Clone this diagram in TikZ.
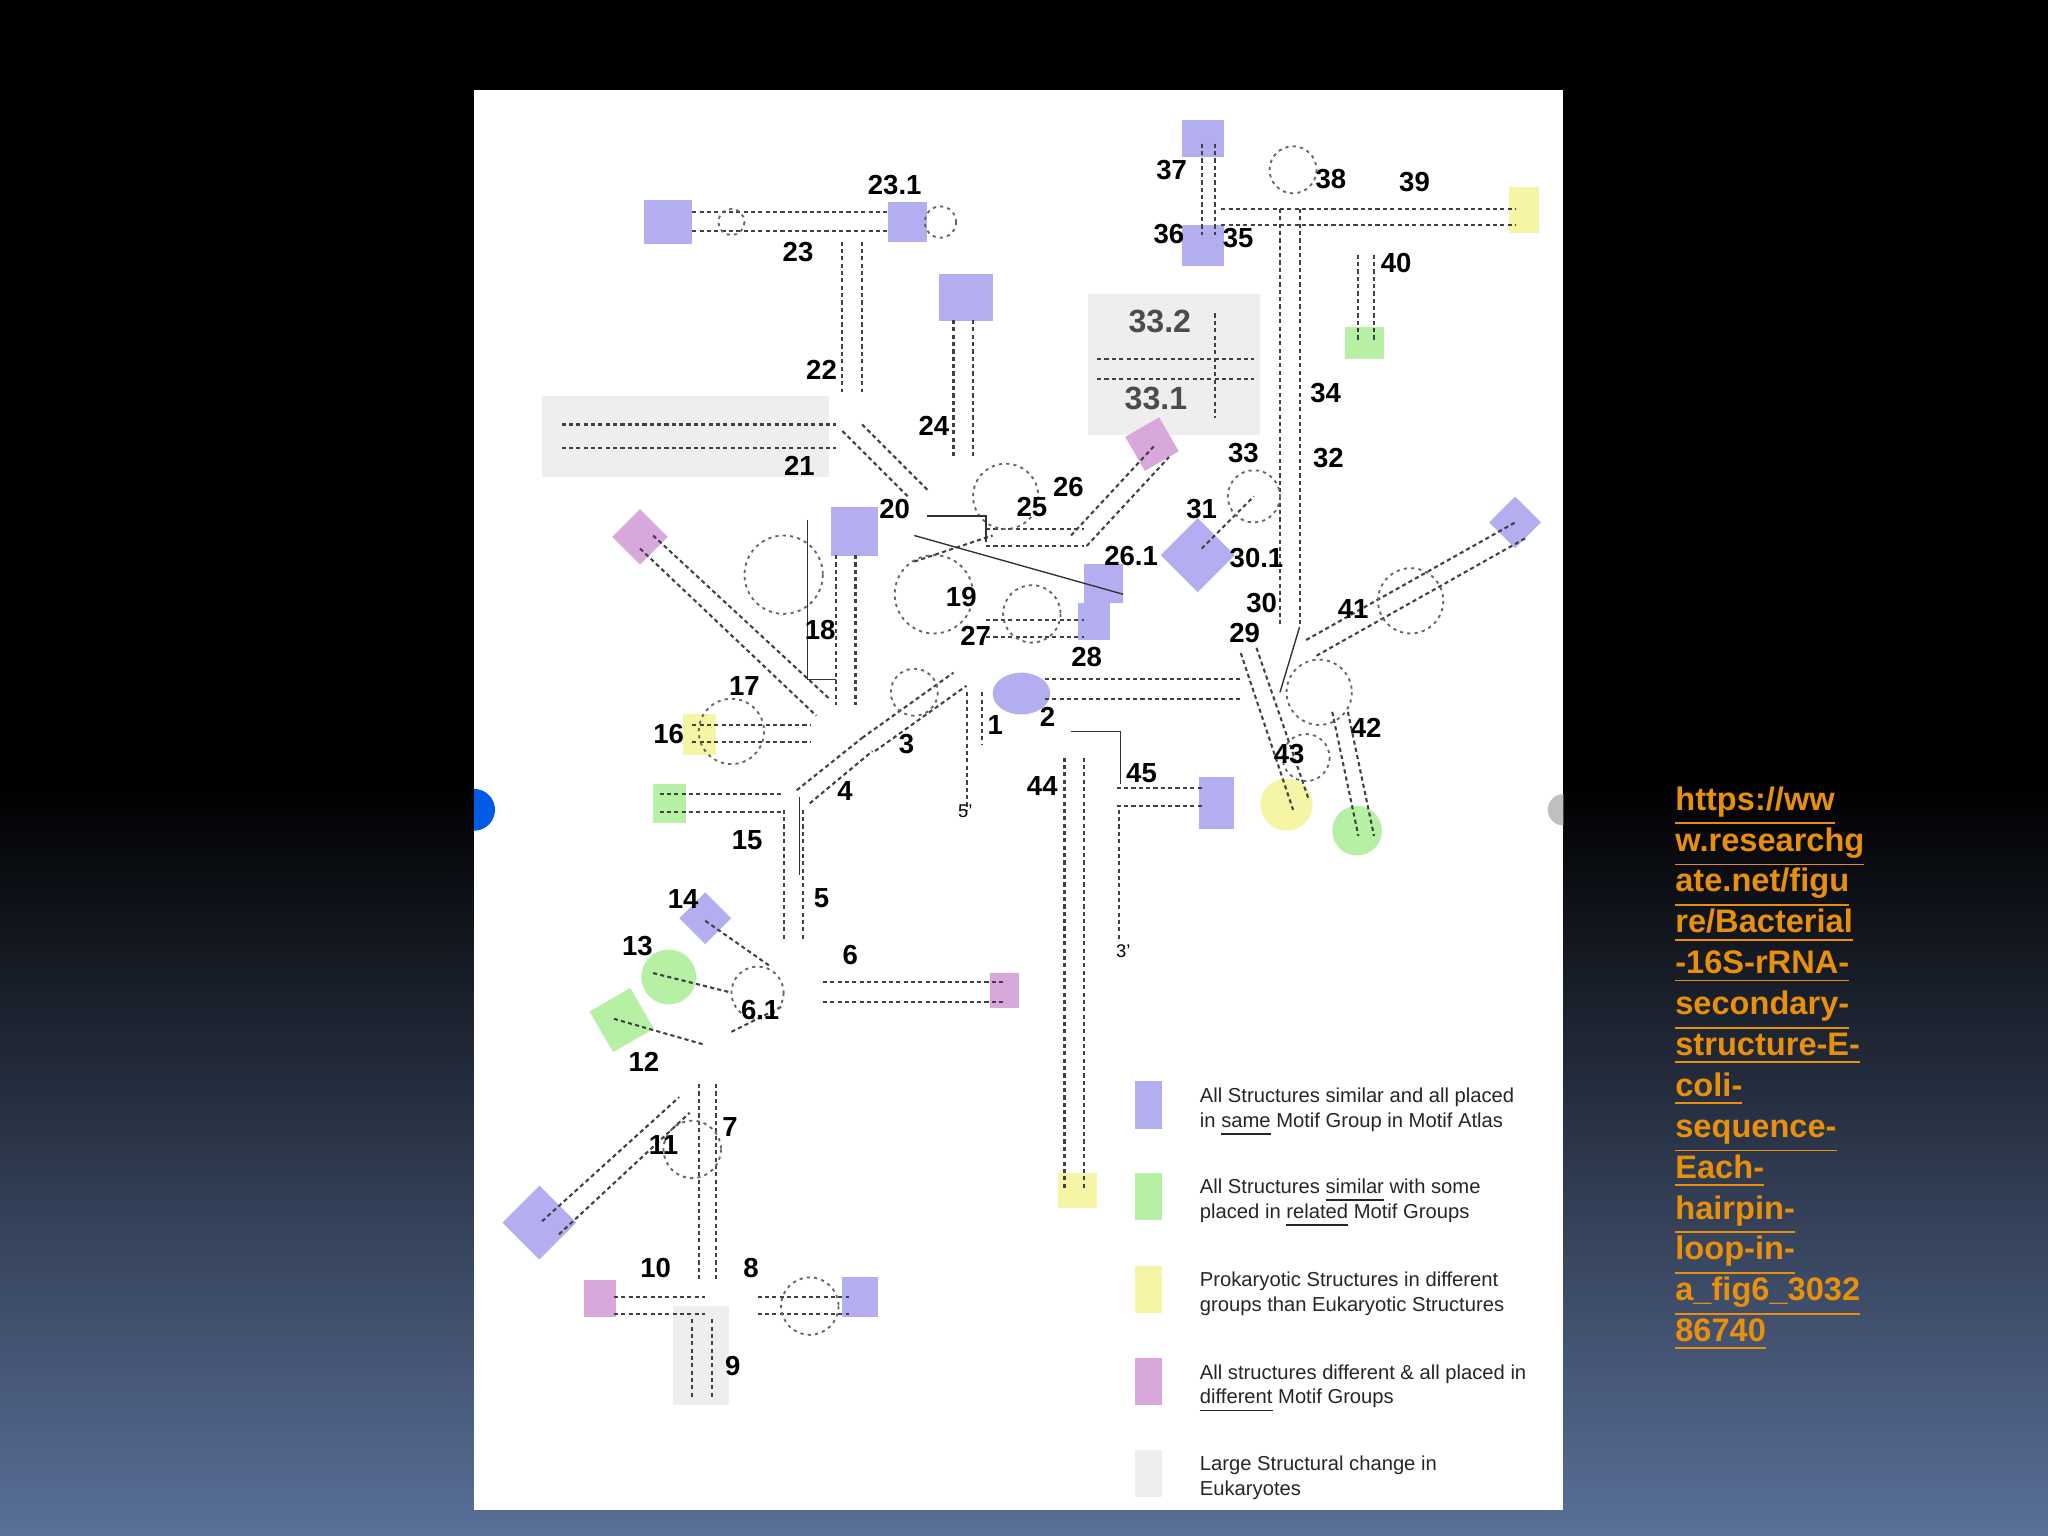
\documentclass[tikz,border=0pt]{standalone}
\usepackage{fontspec}
\setmainfont{Liberation Sans}
\begin{document}
\begin{tikzpicture}[x=0.1mm,y=-0.1mm,
  lbl/.style={font=\bfseries\fontsize{6}{7}\selectfont,inner sep=0pt},
  stem/.style={draw=black!75,line width=0.45pt,dash pattern=on 0.9pt off 0.7pt},
  loopc/.style={draw=black!60,line width=0.4pt,dash pattern=on 0.7pt off 0.9pt},
  thinl/.style={draw=black!80,line width=0.3pt},
  legtxt/.style={font=\fontsize{4.4}{5.4}\selectfont,align=left,anchor=north west,inner sep=0pt,text=black!85},
  linkt/.style={anchor=base west,inner sep=0pt,text=linkc,font=\bfseries\fontsize{7.1}{7.6}\selectfont}]
\definecolor{mpur}{HTML}{B3AEF0}
\definecolor{mgrn}{HTML}{B5F0A5}
\definecolor{myel}{HTML}{F5F5A5}
\definecolor{mpnk}{HTML}{D8A8DC}
\definecolor{mgry}{HTML}{EEEEEE}
\definecolor{bgbot}{HTML}{5A7099}
\definecolor{linkc}{HTML}{E8900C}
\useasboundingbox (0,0) rectangle (1568,1176);
\fill[black] (0,0) rectangle (1568,601);
\shade[top color=black,bottom color=bgbot] (0,600) rectangle (1568,1176);
\fill[white] (363,69) rectangle (1197,1156);
% gray boxes
\fill[mgry] (833,225) rectangle (965,333);
\fill[mgry] (415,303) rectangle (635,365);
\fill[mgry] (515,1000) rectangle (558,1076);
% purple patches
\foreach \a/\b/\c/\d in {493/153/530/187,680/155/710/185,719/210/760/246,905/92/937/120,905/172/937/204,636/388/672/426,830/432/860/462,825/462/850/490,918/595/945/635,645/978/672/1008}
  \fill[mpur] (\a,\b) rectangle (\c,\d);
\fill[mpur] (782,531) ellipse (22 and 16);
\fill[mpur,rotate around={45:(917,425)}] (897,405) rectangle (937,445);
\fill[mpur,rotate around={45:(1160,400)}] (1146,386) rectangle (1174,414);
\fill[mpur,rotate around={45:(540,703)}] (526,689) rectangle (554,717);
\fill[mpur,rotate around={45:(413,936)}] (393,916) rectangle (433,956);
% green
\foreach \a/\b/\c/\d in {1030/250/1060/275,500/600/525/630}
  \fill[mgrn] (\a,\b) rectangle (\c,\d);
\fill[mgrn] (512,748) circle (21);
\fill[mgrn,rotate around={30:(476,781)}] (458,763) rectangle (494,799);
\fill[mgrn] (1039,636) circle (19);
% yellow
\fill[myel] (1155,143) rectangle (1178,178);
\fill[myel] (523,547) rectangle (548,578);
\fill[myel] (985,616) circle (20);
\fill[myel] (810,898) rectangle (840,925);
% pink
\fill[mpnk,rotate around={45:(490,411)}] (475,396) rectangle (505,426);
\fill[mpnk,rotate around={30:(882,340)}] (867,325) rectangle (897,355);
\fill[mpnk] (758,745) rectangle (780,772);
\fill[mpnk] (447,980) rectangle (472,1008);
% stems
\foreach \x/\y/\u/\v in {530/162/680/162,530/177/680/177,645/185/645/300,660/185/660/300,730/245/730/350,745/245/745/350,
  430/325/640/325,430/343/640/343,645/330/695/380,660/325/710/375,640/425/640/540,655/425/655/540,
  490/420/625/548,500/410/635/535,530/555/620/555,530/568/620/568,505/608/600/608,505/622/600/622,
  660/565/730/515,670/575/740/525,610/605/660/565,620/615/668/575,600/620/600/720,615/620/615/720,
  630/752/770/752,630/767/770/767,540/705/590/740,500/745/560/760,470/780/540/800,560/790/600/770,
  535/830/535/980,548/830/548/980,415/935/520/840,428/945/528/852,470/993/540/993,470/1006/540/1006,
  580/993/650/993,580/1006/650/1006,530/1010/530/1070,545/1010/545/1070,
  800/520/950/520,800/535/950/535,700/430/760/410,755/475/830/475,755/488/830/488,755/405/830/405,755/418/830/418,
  820/410/885/340,832/418/895/350,980/160/980/480,995/160/995/480,1040/195/1040/260,1052/195/1052/260,
  935/160/1160/160,935/172/1160/172,920/110/920/180,930/110/930/180,840/275/960/275,840/290/960/290,930/240/930/320,
  920/420/960/380,1000/490/1160/400,1008/502/1168/412,950/500/990/620,962/496/1002/612,1020/545/1040/640,1032/545/1052/640,
  815/580/815/910,830/580/830/910,855/603/920/603,855/617/920/617,857/620/857/720,740/530/740/620,752/530/752/570}
  \draw[stem] (\x,\y) -- (\u,\v);
% loops
\foreach \x/\y/\r in {560/560/25,715/455/30,790/470/22,770/380/25,1080/460/25,1010/530/25,530/880/22,620/1000/22,
  600/440/30,990/130/18,960/380/20,720/170/12,560/170/10,700/530/18,580/760/20,1000/580/18}
  \draw[loopc] (\x,\y) circle (\r);
% thin lines
\draw[thinl] (612,610) -- (612,670);
\draw[thinl] (710,395) -- (755,395) -- (755,415);
\draw[thinl] (700,410) -- (860,455);
\draw[thinl] (618,398) -- (618,520) -- (640,520);
\draw[thinl] (995,480) -- (980,530);
\draw[thinl] (820,560) -- (858,560) -- (858,600);
% helix labels
\foreach \t/\x/\y [count=\i] in {23.1/685/142,23/611/193,22/629/283,24/715/326,21/612/357,20/685/390,25/790/388,26/818/373,26.1/866/426,
  19/736/457,27/747/487,28/832/503,18/628/482,17/570/525,16/512/562,3/694/570,1/762/555,2/802/549,15/572/643,4/647/606,
  5/629/688,14/523/688,13/488/724,6/651/731,6.1/582/773,12/493/813,11/508/877,7/559/863,10/502/971,8/575/971,9/561/1046,
  37/897/130,36/895/179,35/948/182,38/1019/137,39/1083/139,40/1069/201,34/1015/301,33/952/347,32/1017/351,
  31/920/390,30.1/962/427,30/966/462,29/953/485,41/1036/466,42/1046/557,43/987/577,45/874/592,44/798/602}
  \node[lbl] (h\i) at (\x,\y) {\t};
\node[lbl,text=black!70,font=\bfseries\fontsize{7}{8}\selectfont] (h332) at (888,246) {33.2};
\node[lbl,text=black!70,font=\bfseries\fontsize{7}{8}\selectfont] (h331) at (885,305) {33.1};
\node[lbl,font=\fontsize{4}{5}\selectfont] (p5) at (739,621) {5'};
\node[lbl,font=\fontsize{4}{5}\selectfont] (p3) at (860,728) {3'};
% legend
\fill[mpur] (869,828) rectangle (890,864);
\fill[mgrn] (869,898) rectangle (890,934);
\fill[myel] (869,969) rectangle (890,1005);
\fill[mpnk] (869,1040) rectangle (890,1076);
\fill[mgry] (869,1110) rectangle (890,1146);
\node[legtxt] (g1) at (918,832) {All Structures similar and all placed\\in \underline{same} Motif Group in Motif Atlas};
\node[legtxt] (g2) at (918,902) {All Structures \underline{similar} with some\\placed in \underline{related} Motif Groups};
\node[legtxt] (g3) at (918,973) {Prokaryotic Structures in different\\groups than Eukaryotic Structures};
\node[legtxt] (g4) at (918,1044) {All structures different \& all placed in\\\underline{different} Motif Groups};
\node[legtxt] (g5) at (918,1114) {Large Structural change in\\Eukaryotes};
% side nav
\begin{scope}
\clip (363,69) rectangle (1197,1156);
\fill[blue!60!cyan!90!black] (363,620) circle (16);
\fill[black!25] (1197,620) circle (12);
\end{scope}
% link
\foreach \s [count=\i] in {https://ww,w.researchg,ate.net/figu,re/Bacterial,-16S-rRNA-,secondary-,structure-E-,coli-,sequence-,Each-,hairpin-,loop-in-,a\_fig6\_3032,86740}
  \node[linkt] (k\i) at (1282,{589+31.3*\i}) {\underline{\s}};
\end{tikzpicture}
\end{document}
